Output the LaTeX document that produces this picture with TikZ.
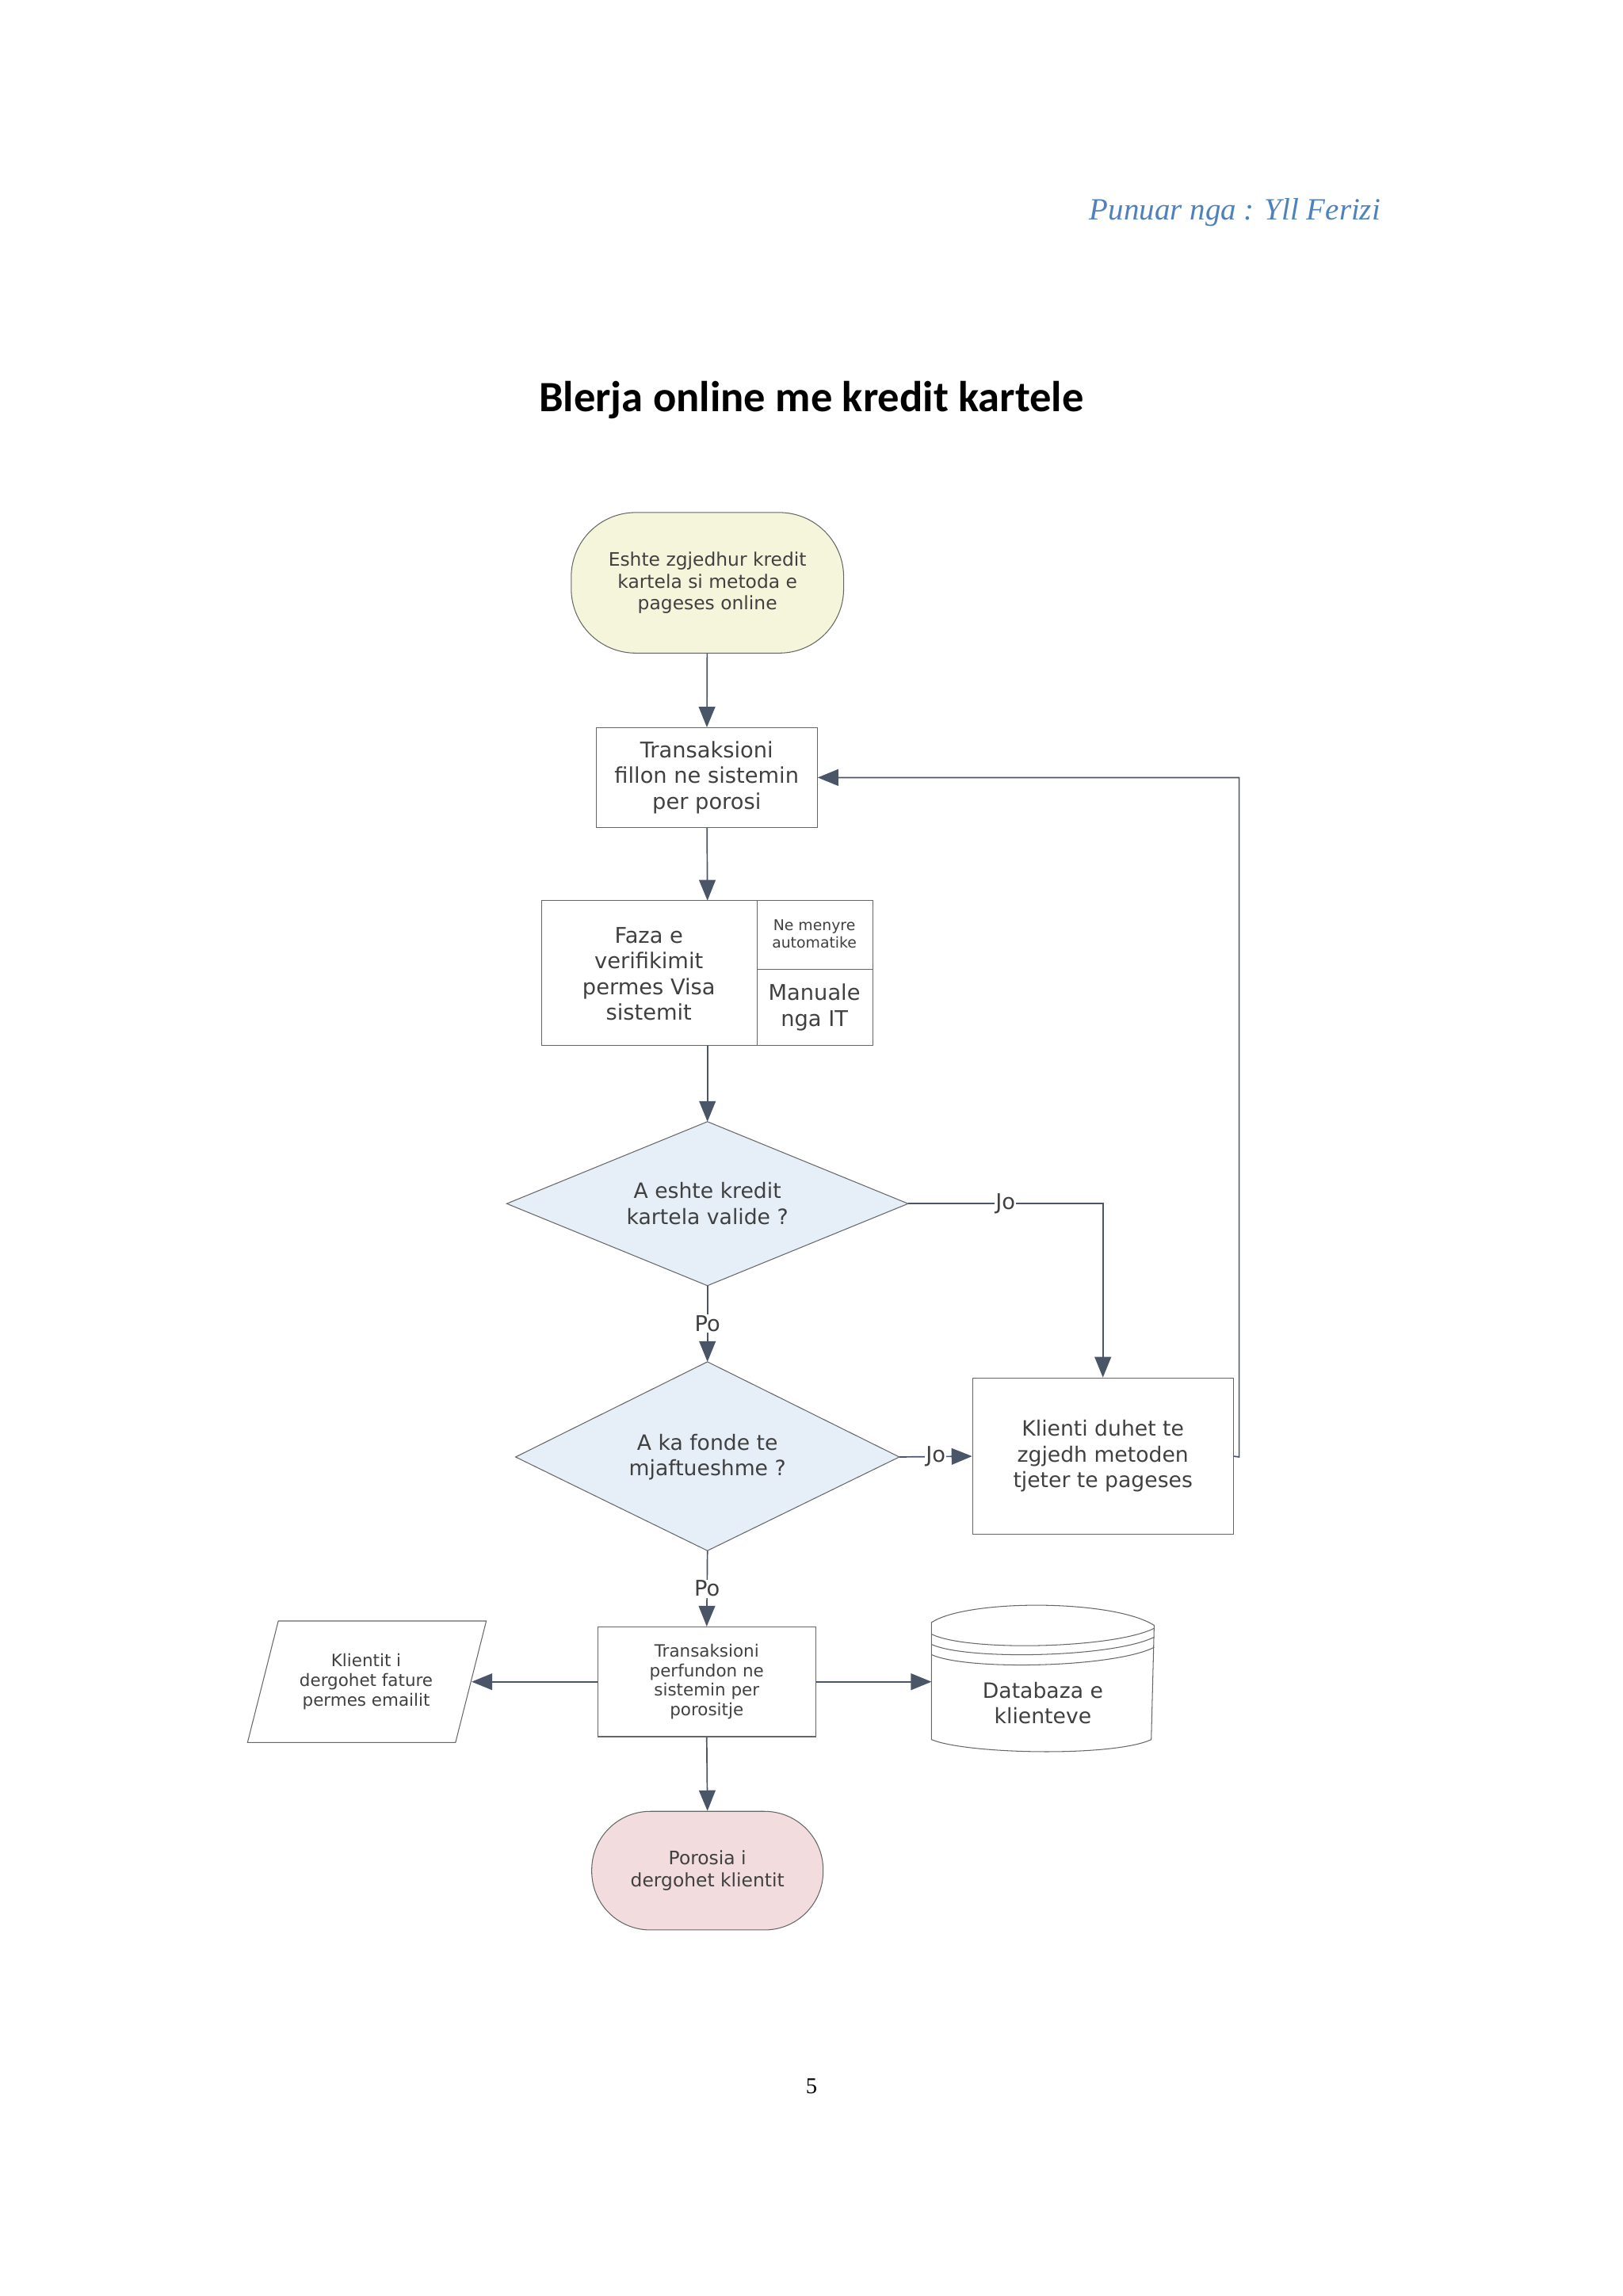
\documentclass[tikz,border=0pt]{standalone}
\usepackage{fontspec}
\setmainfont{DejaVu Sans}
\newfontfamily\titlef{Carlito}
\newfontfamily\headf{Liberation Serif}
\usetikzlibrary{shapes.geometric,arrows.meta}
\definecolor{ln}{HTML}{4A5568}
\definecolor{hd}{HTML}{4F81BD}
\definecolor{dfill}{HTML}{E6EEF8}
\definecolor{sfill}{HTML}{F5F5DC}
\definecolor{efill}{HTML}{F2DCDE}
\begin{document}
\begin{tikzpicture}[x=0.5mm,y=-0.5mm,
  every node/.style={font=\fontsize{20.5}{25}\selectfont,align=center,text=black!75},
  box/.style={draw=black!60,line width=0.8pt},
  ar/.style={draw=ln,line width=1.3pt,-{Triangle[length=20pt,width=16pt]}},
  lab/.style={fill=white,inner sep=1pt,font=\fontsize{21}{24}\selectfont}]
\useasboundingbox (0,0) rectangle (1108,1568);
\fill[white] (0,0) rectangle (1108,1568);
\node[anchor=east,text=hd,font=\headf\itshape\fontsize{30}{34}\selectfont] (hdr) at (945,145) {Punuar nga : Yll Ferizi};
\node[text=black,font=\titlef\bfseries\fontsize{42}{46}\selectfont] (title) at (554,273) {Blerja online me kredit kartele};
% start
\node[box,fill=sfill,minimum width=93mm,minimum height=48mm,font=\fontsize{18}{21.5}\selectfont,rounded corners=22mm] (st) at (483,398) {Eshte zgjedhur kredit\\kartela si metoda e\\pageses online};
\node[box,minimum width=75.5mm,minimum height=34mm,inner sep=0pt,font=\fontsize{21}{25}\selectfont] (b1) at (482.5,531) {Transaksioni\\fillon ne sistemin\\per porosi};
% split box
\draw[box] (370,615) rectangle (596,714);
\draw[box] (517,615) -- (517,714);
\draw[box] (517,662) -- (596,662);
\node[font=\fontsize{21}{25}\selectfont] (b2) at (443,665) {Faza e\\verifikimit\\permes Visa\\sistemit};
\coordinate (b2t) at (483,615); \coordinate (b2b) at (483,714);
\node[font=\fontsize{14.5}{17}\selectfont] (b2a) at (556,638) {Ne menyre\\automatike};
\node[font=\fontsize{21}{25}\selectfont] (b2c) at (556,688) {Manuale\\nga IT};
% diamonds
\draw[box,fill=dfill] (346,822) -- (483,766) -- (620,822) -- (483,878) -- cycle;
\node (d1t) at (483,822) {A eshte kredit\\kartela valide ?};
\coordinate (d1top) at (483,766); \coordinate (d1b) at (483,878); \coordinate (d1r) at (620,822);
\draw[box,fill=dfill] (352,995) -- (483,930) -- (614,995) -- (483,1059) -- cycle;
\node (d2t) at (483,995) {A ka fonde te\\mjaftueshme ?};
\coordinate (d2top) at (483,930); \coordinate (d2b) at (483,1059); \coordinate (d2r) at (614,995);
% klienti
\node[box,minimum width=89mm,minimum height=53.5mm] (kl) at (753,994.5) {Klienti duhet te\\zgjedh metoden\\tjeter te pageses};
% final
\node[box,minimum width=74.5mm,minimum height=37.5mm,inner sep=0pt,font=\fontsize{16.5}{19}\selectfont] (fin) at (482.5,1148.5) {Transaksioni\\perfundon ne\\sistemin per\\porositje};
% parallelogram
\draw[box] (190,1107) -- (332,1107) -- (311,1190) -- (169,1190) -- cycle;
\node[font=\fontsize{16.5}{19}\selectfont] (par) at (250,1148.5) {Klientit i\\dergohet fature\\permes emailit};
\coordinate (parr) at (322,1148.5);
% database
\draw[box] (636,1108) .. controls (660,1092) and (760,1092) .. (788,1110) -- (786,1188) .. controls (760,1200) and (660,1198) .. (636,1188) -- cycle;
\draw[box] (636,1116) .. controls (660,1128) and (760,1126) .. (788,1112);
\draw[box] (636,1123) .. controls (660,1134) and (760,1132) .. (788,1118);
\draw[box] (636,1130) .. controls (660,1141) and (760,1139) .. (788,1125);
\node (db) at (712,1163) {Databaza e\\klienteve};
\coordinate (dbl) at (636,1148.5);
% end
\node[box,fill=efill,minimum width=79mm,minimum height=40.5mm,rounded corners=20mm,font=\fontsize{18}{21.5}\selectfont] (en) at (483,1277.5) {Porosia i\\dergohet klientit};
\node[text=black,font=\headf\fontsize{22}{24}\selectfont] (pg) at (554,1425) {5};
% connectors
\draw[ar] (st) -- (b1);
\draw[ar] (b1) -- (b2t);
\draw[ar] (b2b) -- (d1top);
\draw[ar] (d1b) -- node[lab,pos=0.5]{Po} (d2top);
\draw[ar] (d1r) -- node[lab,pos=0.5]{Jo} (753,822) -- (kl.north);
\draw[ar] (d2r) -- node[lab,pos=0.5]{Jo} (kl.west);
\draw[ar] (kl.east) -- (846,995) -- (846,531) -- (b1.east);
\draw[ar] (d2b) -- node[lab,pos=0.5]{Po} (fin.north);
\draw[ar] (fin.west) -- (parr);
\draw[ar] (fin.east) -- (dbl);
\draw[ar] (fin.south) -- (en.north);
\end{tikzpicture}
\end{document}
